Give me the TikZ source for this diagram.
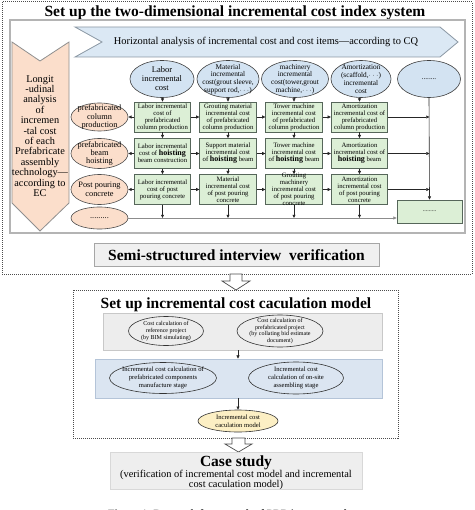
\documentclass[tikz,border=0pt]{standalone}
\usepackage{fontspec}
\setmainfont{Liberation Serif}
\usetikzlibrary{shapes.geometric,arrows.meta}
\definecolor{hblue}{HTML}{DBE8F4}
\definecolor{hedge}{HTML}{8A97A3}
\definecolor{ellblue}{HTML}{D3E3F2}
\definecolor{peach}{HTML}{FBDECB}
\definecolor{peachedge}{HTML}{8F8F8F}
\definecolor{boxfill}{HTML}{DCEFD6}
\definecolor{boxedge}{HTML}{56665A}
\definecolor{paneledge}{HTML}{B4B4B4}
\definecolor{semifill}{HTML}{F0F0F0}
\definecolor{semiedge}{HTML}{A6A6A6}
\definecolor{gpfill}{HTML}{EDEDED}
\definecolor{gpedge}{HTML}{C8C8C8}
\definecolor{bpfill}{HTML}{DBE5F1}
\definecolor{bpedge}{HTML}{B4C4D8}
\definecolor{yell}{HTML}{FCEFC4}
\definecolor{casefill}{HTML}{EEEEEE}
\definecolor{caseedge}{HTML}{D8D8D8}
\newcommand\myfs[2]{\fontsize{#1}{#2}\selectfont}
\newcommand\hoistb{\textbf{\myfs{8}{7}hoisting}}
\newcommand\mydots{\ensuremath{\cdots}}
\begin{document}
\begin{tikzpicture}[x=1pt,y=-1pt,
 arr/.style={-{Triangle[length=3.2pt,width=3pt]},line width=0.6pt,draw=black!85},
 gbox/.style={draw=boxedge,fill=boxfill,line width=0.8pt,minimum width=56.5pt,minimum height=30pt,inner sep=0pt,align=center,font=\myfs{6.7}{7}},
 bell/.style={ellipse,draw=black!75,fill=ellblue,line width=0.6pt,inner sep=0pt},
 pell/.style={ellipse,draw=black!70,fill=peach,line width=0.6pt,inner sep=0pt},
 well/.style={ellipse,draw=black!80,line width=0.6pt,inner sep=0pt},
 lbl/.style={align=center,inner sep=0pt},
 ttl/.style={inner sep=0pt,anchor=base,font=\bfseries\myfs{15.5}{17}},
 dotbox/.style={draw=black!70,densely dotted,line width=1pt},
 hollow/.style={draw=black!70,fill=white,line width=0.7pt}
]
\useasboundingbox (0,0) rectangle (474,510);

% ---------- part 1 ----------
\draw[dotbox] (2,2) rectangle (472,274);
\node[ttl] (title1) at (235,17) {Set up the two-dimensional incremental cost index system};
\draw[draw=paneledge,line width=1.2pt] (10,20) rectangle (465,233);

\draw[fill=hblue,draw=hedge,line width=0.8pt] (75,27) -- (440,27) -- (458,42) -- (440,57) -- (75,57) -- (102,42) -- cycle;
\node[lbl,font=\myfs{10.4}{12}] (htext) at (266,42) {Horizontal analysis of incremental cost and cost items—according to CQ};

\draw[fill=peach,draw=peachedge,line width=0.8pt] (12,42) -- (40,61) -- (69,42) -- (69,203) -- (40,231) -- (12,203) -- cycle;
\node[lbl,font=\myfs{10.3}{10.4}] (vtext) at (40,136) {Longit\\-udinal\\analysis\\of\\incremen\\-tal cost\\of each\\Prefabricate\\assembly\\technology—\\according to\\EC};

% top ellipses
\node[bell,minimum width=64pt,minimum height=37pt] (t1) at (162,79) {};
\node[lbl,font=\myfs{8.5}{9}] (t1l) at (t1) {Labor\\incremental\\cost};
\node[bell,minimum width=62pt,minimum height=37pt] (t2) at (228,79) {};
\node[lbl,font=\myfs{7.3}{7.8}] (t2l) at (t2) {Material\\incremental\\cost(grout sleeve,\\support rod,\mydots)};
\node[bell,minimum width=67pt,minimum height=37pt] (t3) at (295,79) {};
\node[lbl,font=\myfs{7.3}{7.8}] (t3l) at (t3) {machinery\\incremental\\cost(tower,grout\\machine,\mydots)};
\node[bell,minimum width=60pt,minimum height=37pt] (t4) at (361,79) {};
\node[lbl,font=\myfs{7.3}{7.8}] (t4l) at (t4) {Amortization\\(scaffold,\mydots)\\incremental\\cost};
\node[bell,minimum width=63pt,minimum height=37pt] (t5) at (429,79) {};
\node[lbl,font=\myfs{7.3}{7.8}] (t5l) at (t5) {........};

% left ellipses
\node[pell,minimum width=57pt,minimum height=28pt] (l1) at (99.5,117) {};
\node[lbl,font=\myfs{8.3}{8.2}] (l1l) at (l1) {prefabricated\\column\\production};
\node[pell,minimum width=57pt,minimum height=30pt] (l2) at (99.5,153.5) {};
\node[lbl,font=\myfs{8.3}{8.2}] (l2l) at (l2) {prefabricated\\beam\\hoisting};
\node[pell,minimum width=57pt,minimum height=30pt] (l3) at (99.5,189.5) {};
\node[lbl,font=\myfs{8.3}{9}] (l3l) at (l3) {Post pouring\\concrete};
\node[pell,minimum width=57pt,minimum height=22pt] (l4) at (99.5,218) {};
\node[lbl,font=\myfs{8.3}{9}] (l4l) at (l4) {.........};

% grid boxes
\node[gbox] (b11) at (162.5,117) {Labor incremental\\cost of\\prefabricated\\column production};
\node[gbox] (b12) at (228,117) {Grouting material\\incremental cost\\of prefabricated\\column production};
\node[gbox] (b13) at (294,117) {Tower machine\\incremental cost\\of prefabricated\\column production};
\node[gbox] (b14) at (359.5,117) {Amortization\\incremental cost of\\prefabricated\\column production};
\node[gbox] (b21) at (162.5,153.5) {Labor incremental\\cost of \hoistb\\beam construction};
\node[gbox] (b22) at (228,153.5) {Support material\\incremental cost\\of \hoistb{} beam};
\node[gbox] (b23) at (294,153.5) {Tower machine\\incremental cost\\of \hoistb{} beam};
\node[gbox] (b24) at (359.5,153.5) {Amortization\\incremental cost of\\\hoistb{} beam};
\node[gbox] (b31) at (162.5,189.5) {Labor incremental\\cost of post\\pouring concrete};
\node[gbox] (b32) at (228,189.5) {Material\\incremental cost\\of post pouring\\concrete};
\node[gbox] (b33) at (294,189.5) {};
\node[lbl,font=\myfs{6.7}{7}] (b33l) at (b33) {Grouting\\machinery\\incremental cost\\of post pouring\\concrete};
\node[gbox] (b34) at (359.5,189.5) {Amortization\\incremental cost\\of post pouring\\concrete};
\node[gbox,minimum width=65pt,minimum height=23pt,font=\myfs{6}{7}] (dbox) at (429.5,211.5) {.........};

% vertical arrows
\foreach \c/\t in {1/t1,2/t2,3/t3,4/t4}{
  \draw[arr] (b1\c.north |- \t.south) -- (b1\c.north);
  \draw[arr] (b1\c.south) -- (b2\c.north);
  \draw[arr] (b2\c.south) -- (b3\c.north);
  \draw[arr] (b3\c.south) -- (b3\c.south |- l4.east);
}
% horizontal arrows
\foreach \r in {1,2,3}{
  \draw[arr] (b\r1.west) -- (l\r.east);
  \draw[arr] (b\r1.east) -- (b\r2.west);
  \draw[arr] (b\r2.east) -- (b\r3.west);
  \draw[arr] (b\r3.east) -- (b\r4.west);
  \draw[arr] (b\r4.east) -- (b\r4.east -| dbox.north);
}
\draw[arr] (t5.south) -- (dbox.north);
\draw[arr,draw=black!45] (l4.east) -- (l4.east -| dbox.west);

\node[draw=semiedge,fill=semifill,line width=0.8pt,minimum width=285pt,minimum height=23pt,inner sep=0pt] (semi) at (236.5,254.5) {};
\node[ttl] (semil) at (236.5,260.5) {Semi-structured interview\ \ verification};

% hollow arrow 1
\draw[hollow] (230,274) -- (242,274) -- (242,281) -- (250,281) -- (236,290) -- (222,281) -- (230,281) -- cycle;

% ---------- part 2 ----------
\draw[dotbox] (73,290) rectangle (398,438);
\node[ttl] (title2) at (236,308) {Set up incremental cost caculation model};
\node[draw=gpedge,fill=gpfill,line width=0.8pt,minimum width=279pt,minimum height=37pt,inner sep=0pt] (gp) at (242.5,331.5) {};
\node[well,minimum width=75pt,minimum height=29pt] (e21) at (166,331) {};
\node[lbl,font=\myfs{6}{6.6}] (e21l) at (e21) {Cost calculation of\\reference project\\(by BIM simulating)};
\node[well,minimum width=86pt,minimum height=32pt] (e22) at (280,331) {};
\node[lbl,font=\myfs{6}{6.6}] (e22l) at (e22) {Cost calculation of\\prefabricated project\\(by collating bid estimate\\document)};
\node[draw=bpedge,fill=bpfill,line width=0.8pt,minimum width=287pt,minimum height=39pt,inner sep=0pt] (bp) at (238.5,378.5) {};
\node[well,minimum width=107pt,minimum height=31pt] (e23) at (163,378) {};
\node[lbl,font=\myfs{6.6}{8}] (e23l) at (e23) {Incremental cost calculation of\\prefabricated components\\manufacture stage};
\node[well,minimum width=95pt,minimum height=32pt] (e24) at (296,378) {};
\node[lbl,font=\myfs{6.6}{8}] (e24l) at (e24) {Incremental cost\\calculation of on-site\\assembling stage};
\node[well,fill=yell,minimum width=80pt,minimum height=22pt] (e25) at (238,421) {};
\node[lbl,font=\myfs{6.6}{8.5}] (e25l) at (e25) {Incremental cost\\caculation model};
\draw[arr] (gp.south -| e25) -- (bp.north -| e25);
\draw[arr] (bp.south -| e25) -- (e25.north);

% hollow arrow 2
\draw[hollow] (232,438) -- (245,438) -- (245,444) -- (252,444) -- (238.5,452) -- (225,444) -- (232,444) -- cycle;

\node[draw=caseedge,fill=casefill,line width=0.8pt,minimum width=252pt,minimum height=37pt,inner sep=0pt] (case) at (236,470.5) {};
\node[ttl] (casel) at (236,466) {Case study};
\node[lbl,font=\myfs{10.4}{10},anchor=north] (cases) at (236,470) {(verification of incremental cost model and incremental\\cost caculation model)};

\begin{scope}
\clip (0,0) rectangle (474,510);
\node[inner sep=0pt,anchor=base,font=\bfseries\myfs{11}{12}] (cap) at (238,517.5) {Figure 1. Research framework of PBB incremental cost};
\end{scope}
\end{tikzpicture}
\end{document}
